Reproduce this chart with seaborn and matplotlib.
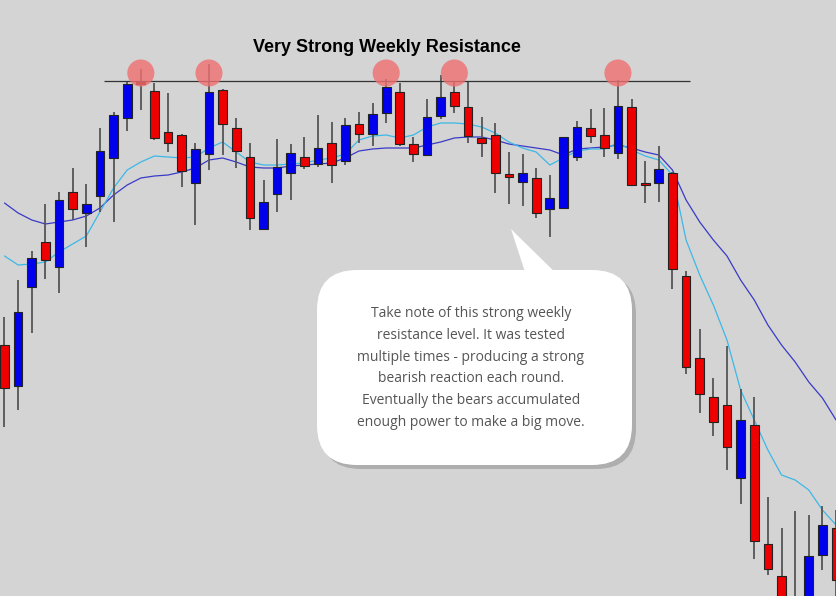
import numpy as np
import pandas as pd
import matplotlib
matplotlib.use("Agg")
import matplotlib.pyplot as plt
from matplotlib.patches import FancyBboxPatch, Polygon
import seaborn as sns

# price values (chart units, higher = up)
opens  = [255,214,313,358,333,408,387,404,442,482, 518,509,468,465,417,446,510,472,443,371,406,427,443,436,457,439,476,466,487,508,456,445,484,508,493,462,465,426,418,422,391,392,443,472,465,447,493,417,417,427,324,242,203,195,122,175,56,24,-5,-10,45,72]
closes = [212,288,342,340,400,391,396,449,485,516,516,462,457,429,451,508,476,449,382,398,433,447,434,452,435,475,466,486,513,456,446,483,503,494,464,457,427,423,427,387,402,463,473,464,452,494,415,415,431,331,233,206,178,153,180,59,31,0,-20,44,75,20]
highs  = [283,320,349,396,408,432,416,472,488,519,531,517,507,466,457,536,511,482,457,420,461,456,463,485,478,482,488,497,521,517,463,501,525,518,518,483,477,448,446,432,425,463,479,491,492,520,501,439,454,428,329,271,222,254,211,203,103,72,89,85,94,90]
lows   = [173,190,267,321,307,380,353,388,378,469,490,460,448,413,375,430,445,432,370,370,388,400,431,433,417,435,457,454,477,454,438,445,481,487,457,443,407,396,394,382,363,392,439,457,443,441,414,397,398,311,226,187,164,130,96,41,25,-10,-30,-20,30,0]
ma_fast = [344,335,336,338,348,356,364,388,412,430,438,444,443,442,443,452,458,448,438,435,435,436,437,440,442,446,460,464,465,462,465,473,477,477,476,473,467,458,452,448,435,442,449,451,451,457,450,444,440,425,360,325,295,260,210,180,150,125,120,110,90,75]
ma_slow = [397,387,380,376,378,380,384,392,405,415,422,424,425,428,432,440,442,438,433,432,432,434,435,436,437,442,449,451,452,452,452,455,458,462,463,463,460,456,454,452,450,445,451,452,453,455,452,448,445,430,400,378,360,344,320,300,275,255,238,218,202,180]
touch_idx = [10, 15, 28, 33, 45]
resistance = 519
title = "Very Strong Weekly Resistance"
note = ("Take note of this strong weekly\nresistance level. It was tested\n"
        "multiple times - producing a strong\nbearish reaction each round.\n"
        "Eventually the bears accumulated\nenough power to make a big move.")

sns.set_style("white")
bg = "#d4d4d4"
fig = plt.figure(figsize=(8.37, 5.96), dpi=100, facecolor=bg)
ax = fig.add_axes([0, 0, 1, 1], facecolor=bg)

n = len(opens)
df = pd.DataFrame({"i": np.arange(n), "o": opens, "c": closes, "h": highs, "l": lows,
                   "fast": ma_fast, "slow": ma_slow})
sns.lineplot(data=df, x="i", y="slow", ax=ax, color="#3a3ac8", lw=0.9, zorder=1)
sns.lineplot(data=df, x="i", y="fast", ax=ax, color="#3cb8e8", lw=0.9, zorder=1)
ax.vlines(df.i, df.l, df.h, color="#555555", lw=1.3, zorder=2)
up = df.c >= df.o
bot = np.minimum(df.o, df.c)
hgt = np.maximum(np.abs(df.c - df.o), 2)
ax.bar(df.i, hgt, bottom=bot, width=0.64,
       color=np.where(up, "#0000ee", "#ee0000"), edgecolor="#222222", lw=0.8, zorder=3)
ax.hlines(resistance, 7.3, 50.3, color="#333333", lw=0.9, zorder=4)
ax.scatter(touch_idx, [527] * len(touch_idx), s=380, color="#f07070", alpha=0.8,
           edgecolor="none", zorder=5)
ax.set_xlim(-0.33, 61.07)
ax.set_ylim(4, 600)
ax.axis("off")

# overlay in pixel coordinates for annotations
ov = fig.add_axes([0, 0, 1, 1])
ov.set_xlim(0, 837); ov.set_ylim(596, 0); ov.axis("off"); ov.patch.set_alpha(0)
ov.text(387, 47, title, ha="center", va="center", fontsize=13, fontweight="bold",
        family="Liberation Sans", color="black")
# shadow
ov.add_patch(FancyBboxPatch((321, 274), 315, 195, boxstyle="round,pad=0,rounding_size=40",
                            fc="#8a8a8a", ec="none", alpha=0.5, zorder=1))
ov.add_patch(Polygon([[515, 233], [529, 276], [559, 276]], closed=True, fc="#8a8a8a",
                     ec="none", alpha=0.5, zorder=1))
ov.add_patch(FancyBboxPatch((317, 270), 315, 195, boxstyle="round,pad=0,rounding_size=40",
                            fc="white", ec="none", zorder=2))
ov.add_patch(Polygon([[511, 229], [525, 272], [555, 272]], closed=True, fc="white",
                     ec="none", zorder=2))
ov.text(471, 368, note, ha="center", va="center", fontsize=10, color="#555555",
        family="Open Sans", linespacing=1.62, zorder=3)

fig.savefig("out.png", dpi=100, facecolor=bg)
